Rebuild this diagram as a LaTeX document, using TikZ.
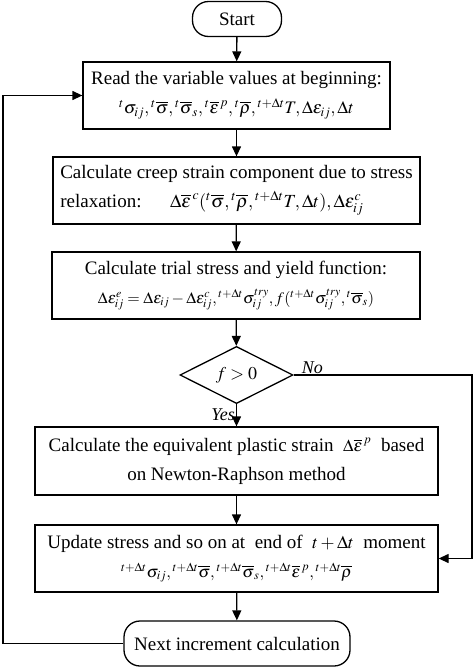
\documentclass[tikz,border=0pt]{standalone}
\usepackage{mathptmx}
\usepackage{fontspec}
\setmainfont{Liberation Serif}
\usetikzlibrary{shapes.geometric,arrows.meta}
\newcommand\ob[1]{\overline{#1}}
\newcommand\mth[2]{{\fontsize{#1}{29}\selectfont$#2$}}
\begin{document}
\begin{tikzpicture}[x=1pt,y=-1pt,
  every node/.style={font=\fontsize{19}{29}\selectfont},
  box/.style={draw,line width=1.3pt,inner sep=0pt,align=center},
  term/.style={draw,line width=1.3pt,inner sep=0pt,rounded corners=16pt},
  cond/.style={draw,line width=1.3pt,diamond,inner sep=0pt,minimum width=113pt,minimum height=46pt},
  arr/.style={line width=1.3pt,-{Triangle[length=10pt,width=9pt]}},
  lbl/.style={font=\fontsize{18}{22}\selectfont\itshape,inner sep=1pt}]
\useasboundingbox (0,0) rectangle (474,667);
\node[term,minimum width=89pt,minimum height=35pt] (start) at (237,19) {Start};
\node[box,minimum width=307pt,minimum height=67pt] (b1) at (236.5,95.5)
  {Read the variable values at beginning:\\
   \mth{17.6}{{}^{t}\sigma_{ij}, {}^{t}\ob{\sigma}, {}^{t}\ob{\sigma}_{s}, {}^{t}\ob{\varepsilon}^{\,p}, {}^{t}\ob{\rho}, {}^{t+\Delta t}T, \Delta\varepsilon_{ij}, \Delta t}};
\node[box,minimum width=367pt,minimum height=67pt,align=left] (b2) at (236.5,190.5)
  {Calculate creep strain component due to stress\\
   relaxation:\quad\ \ \mth{18.5}{\Delta\ob{\varepsilon}^{\,c}({}^{t}\ob{\sigma}, {}^{t}\ob{\rho}, {}^{t+\Delta t}T, \Delta t), \Delta\varepsilon^{c}_{ij}}};
\node[box,minimum width=368pt,minimum height=67pt] (b3) at (236,285.5)
  {Calculate trial stress and yield function:\\
   \mth{16}{\Delta\varepsilon^{e}_{ij}=\Delta\varepsilon_{ij}-\Delta\varepsilon^{c}_{ij}, {}^{t+\Delta t}\sigma^{try}_{ij}, f({}^{t+\Delta t}\sigma^{try}_{ij}, {}^{t}\ob{\sigma}_{s})}};
\node[cond] (d) at (236.5,375) {\mth{18}{f>0}};
\node[box,minimum width=403pt,minimum height=68pt] (b4) at (236.5,461)
  {Calculate the equivalent plastic strain \ \mth{17}{\Delta\ob{\varepsilon}^{\,p}} \ based\\
   on Newton-Raphson method};
\node[box,minimum width=403pt,minimum height=67pt] (b5) at (236.5,558.5)
  {Update stress and so on at \ end of \ \mth{18}{t+\Delta t} \ moment\\
   \mth{16.7}{{}^{t+\Delta t}\sigma_{ij}, {}^{t+\Delta t}\ob{\sigma}, {}^{t+\Delta t}\ob{\sigma}_{s}, {}^{t+\Delta t}\ob{\varepsilon}^{\,p}, {}^{t+\Delta t}\ob{\rho}}};
\node[term,minimum width=226pt,minimum height=45pt] (next) at (237,643.5) {Next increment calculation};
\coordinate (L) at (3,643.5);
\coordinate (R) at (472,375);
\draw[arr] (start) -- (b1);
\draw[arr] (b1) -- (b2);
\draw[arr] (b2) -- (b3);
\draw[arr] (b3) -- (d);
\draw[arr] (d) -- node[lbl,left,pos=0.45] (yes) {Yes} (b4);
\draw[arr] (b4) -- (b5);
\draw[arr] (b5) -- (next);
\draw[arr] (d.east) -- (R) |- (b5.east);
\node[lbl,anchor=south west,xshift=7pt] (no) at (d.east) {No};
\draw[arr] (next.west) -- (L) |- (b1.west);
\end{tikzpicture}
\end{document}
